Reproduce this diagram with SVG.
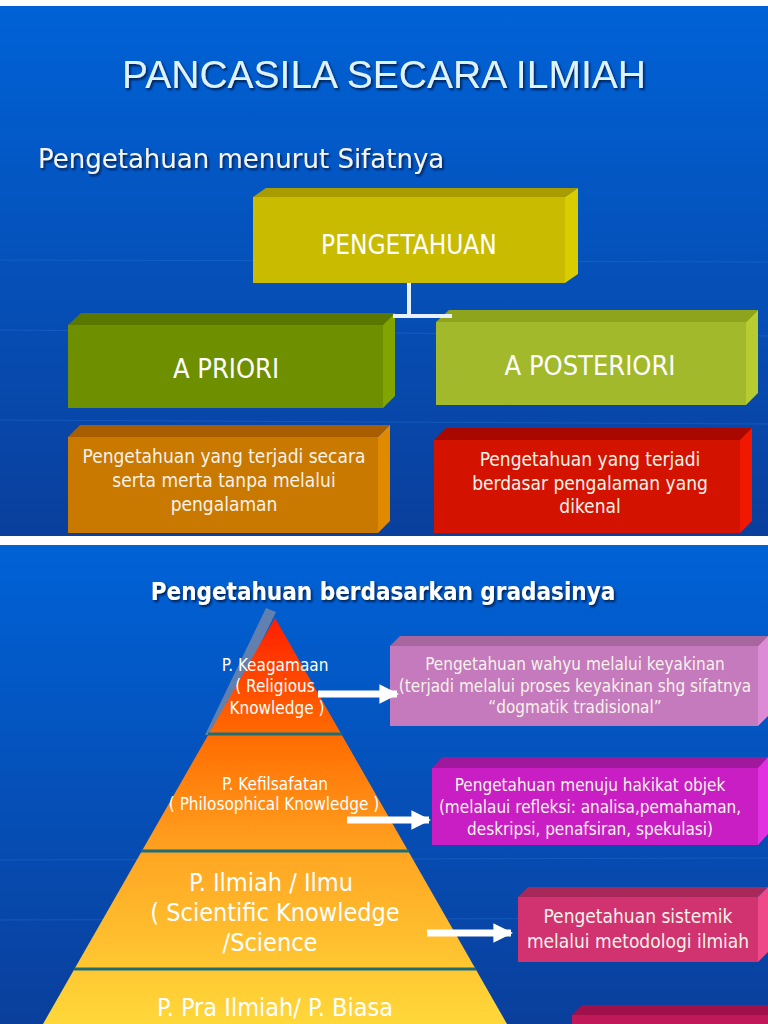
<svg xmlns="http://www.w3.org/2000/svg" width="768" height="1024" viewBox="0 0 768 1024">
<defs>
<linearGradient id="bg" x1="0" y1="0" x2="0" y2="1">
<stop offset="0" stop-color="#0062d6"/>
<stop offset="1" stop-color="#0a3f9c"/>
</linearGradient>
<linearGradient id="pyr" x1="0" y1="618" x2="0" y2="1024" gradientUnits="userSpaceOnUse">
<stop offset="0" stop-color="#ff1e00"/>
<stop offset="0.28" stop-color="#ff6a00"/>
<stop offset="0.6" stop-color="#ffa824"/>
<stop offset="1" stop-color="#ffd83a"/>
</linearGradient>
<filter id="sh" x="-10%" y="-30%" width="120%" height="160%">
<feDropShadow dx="1.5" dy="2" stdDeviation="1" flood-color="#001030" flood-opacity="0.8"/>
</filter>
<marker id="ah" viewBox="0 0 10 10" refX="9" refY="5" markerWidth="2.8" markerHeight="3.4" orient="auto" markerUnits="strokeWidth">
<path d="M0,0 L10,5 L0,10 z" fill="#ffffff"/>
</marker>
</defs>
<style>
.t{font-family:"DejaVu Sans Condensed","DejaVu Sans",sans-serif;fill:#ffffff;text-anchor:middle}
.lt{fill:#f6f2ea}
.title{font-family:"Liberation Sans",Arial,sans-serif;fill:#dff2ff;text-anchor:middle}
.arr{stroke:#ffffff;stroke-width:7;fill:none;marker-end:url(#ah)}
.sep{stroke:#1e6c74;stroke-width:3}
</style>

<rect x="0" y="0" width="768" height="1024" fill="#ffffff"/>
<rect x="0" y="6" width="768" height="530" fill="url(#bg)"/>
<rect x="0" y="545" width="768" height="479" fill="url(#bg)"/>
<g stroke="#2a78e0" stroke-width="1" opacity="0.35">
<line x1="0" y1="260" x2="768" y2="262"/>
<line x1="0" y1="330" x2="768" y2="336"/>
<line x1="0" y1="420" x2="768" y2="424"/>
<line x1="0" y1="860" x2="768" y2="858"/>
<line x1="0" y1="920" x2="768" y2="918"/>
</g>

<text class="title" x="384" y="88" font-size="39" filter="url(#sh)">PANCASILA SECARA ILMIAH</text>
<text x="38" y="168" font-size="26" font-family="'DejaVu Sans',sans-serif" fill="#f4f4f4" filter="url(#sh)">Pengetahuan menurut Sifatnya</text>

<g id="pengetahuan">
<polygon points="253,197 266,188 578,188 565,197" fill="#a89c00"/>
<polygon points="565,197 578,188 578,274 565,283" fill="#d9cc00"/>
<rect x="253" y="197" width="312" height="86" fill="#c9bc00"/>
<text class="t" x="409" y="254" font-size="26">PENGETAHUAN</text>
</g>

<g id="apriori">
<polygon points="68,325 81,313 395,313 383,325" fill="#5a7800"/>
<polygon points="383,325 395,313 395,396 383,408" fill="#82a400"/>
<rect x="68" y="325" width="315" height="83" fill="#6d8f00"/>
<text class="t" x="226" y="378" font-size="27">A PRIORI</text>
</g>

<g id="aposteriori">
<polygon points="436,322 449,310 758,310 746,322" fill="#8ea41c"/>
<polygon points="746,322 758,310 758,393 746,405" fill="#b6cc30"/>
<rect x="436" y="322" width="310" height="83" fill="#a1b92a"/>
<text class="t" x="590" y="375" font-size="27">A POSTERIORI</text>
</g>

<g id="apriori-desc">
<polygon points="68,437 80,425 390,425 378,437" fill="#a85e00"/>
<polygon points="378,437 390,425 390,521 378,533" fill="#e08a00"/>
<rect x="68" y="437" width="310" height="96" fill="#c97800"/>
<text class="t lt" x="224" y="463" font-size="19">Pengetahuan yang terjadi secara</text>
<text class="t lt" x="224" y="487" font-size="19">serta merta  tanpa melalui</text>
<text class="t lt" x="224" y="511" font-size="19">pengalaman</text>
</g>

<g id="aposteriori-desc">
<polygon points="434,440 446,428 752,428 740,440" fill="#a80800"/>
<polygon points="740,440 752,428 752,521 740,533" fill="#f01800"/>
<rect x="434" y="440" width="306" height="93" fill="#d41200"/>
<text class="t lt" x="590" y="466" font-size="19">Pengetahuan yang terjadi</text>
<text class="t lt" x="590" y="490" font-size="19">berdasar pengalaman yang</text>
<text class="t lt" x="590" y="513" font-size="19">dikenal</text>
</g>

<text class="t" x="383" y="600" font-size="24" font-weight="bold" filter="url(#sh)">Pengetahuan berdasarkan gradasinya</text>

<g id="pyramid">
<polygon points="266,608 276,612 216,735 205,735" fill="#7a8aa8" opacity="0.8"/>
<polygon points="275,618 507,1024 43,1024" fill="url(#pyr)"/>
<line class="sep" x1="208" y1="734" x2="342" y2="734"/>
<line class="sep" x1="141" y1="851" x2="409" y2="851"/>
<line class="sep" x1="74" y1="969" x2="476" y2="969"/>
</g>

<g id="tier-keagamaan">
<text class="t" x="275" y="671" font-size="17">P. Keagamaan</text>
<text class="t" x="275" y="692" font-size="17">( Religious</text>
<text class="t" x="277" y="714" font-size="17">Knowledge )</text>
</g>
<g id="tier-kefilsafatan">
<text class="t" x="275" y="790" font-size="17">P. Kefilsafatan</text>
<text class="t" x="274" y="810" font-size="17">( Philosophical Knowledge )</text>
</g>
<g id="tier-ilmiah">
<text class="t" x="271" y="891" font-size="25">P. Ilmiah / Ilmu</text>
<text class="t" x="275" y="921" font-size="25">( Scientific Knowledge</text>
<text class="t" x="270" y="951" font-size="25">/Science</text>
</g>
<g id="tier-pra-ilmiah">
<text class="t" x="275" y="1016" font-size="25">P. Pra Ilmiah/ P. Biasa</text>
</g>

<g id="desc-keagamaan">
<polygon points="390,646 400,636 768,636 758,646" fill="#a8669e"/>
<polygon points="758,646 768,636 768,716 758,726" fill="#dc8cd4"/>
<rect x="390" y="646" width="368" height="80" fill="#c57abd"/>
<text class="t lt" x="575" y="670" font-size="17">Pengetahuan wahyu  melalui keyakinan</text>
<text class="t lt" x="575" y="692" font-size="17">(terjadi melalui proses keyakinan shg sifatnya</text>
<text class="t lt" x="575" y="713" font-size="17">“dogmatik tradisional”</text>
</g>

<g id="desc-kefilsafatan">
<polygon points="432,768 442,757 768,757 758,768" fill="#a0189c"/>
<polygon points="758,768 768,757 768,834 758,845" fill="#e030e0"/>
<rect x="432" y="768" width="326" height="77" fill="#c81ec4"/>
<text class="t lt" x="590" y="791" font-size="17">Pengetahuan menuju hakikat objek</text>
<text class="t lt" x="590" y="813" font-size="17">(melalaui refleksi: analisa,pemahaman,</text>
<text class="t lt" x="590" y="835" font-size="17">deskripsi, penafsiran, spekulasi)</text>
</g>

<g id="desc-ilmiah">
<polygon points="518,897 528,887 768,887 758,897" fill="#a8285a"/>
<polygon points="758,897 768,887 768,952 758,962" fill="#ee4a8a"/>
<rect x="518" y="897" width="240" height="65" fill="#d0336f"/>
<text class="t lt" x="638" y="923" font-size="19">Pengetahuan sistemik</text>
<text class="t lt" x="638" y="948" font-size="19">melalui metodologi ilmiah</text>
</g>

<g id="desc-pra-ilmiah">
<polygon points="572,1015 582,1005 768,1005 768,1015" fill="#a0104a"/>
<rect x="572" y="1015" width="196" height="9" fill="#c01858"/>
</g>

<g id="connectors">
<line x1="409" y1="283" x2="409" y2="316" stroke="#e8f0ff" stroke-width="4"/>
<line x1="393" y1="316" x2="452" y2="316" stroke="#e8f0ff" stroke-width="4"/>
<path class="arr" d="M318,694 L397,694"/>
<path class="arr" d="M347,820 L429,820"/>
<path class="arr" d="M427,933 L511,933"/>
</g>
</svg>
